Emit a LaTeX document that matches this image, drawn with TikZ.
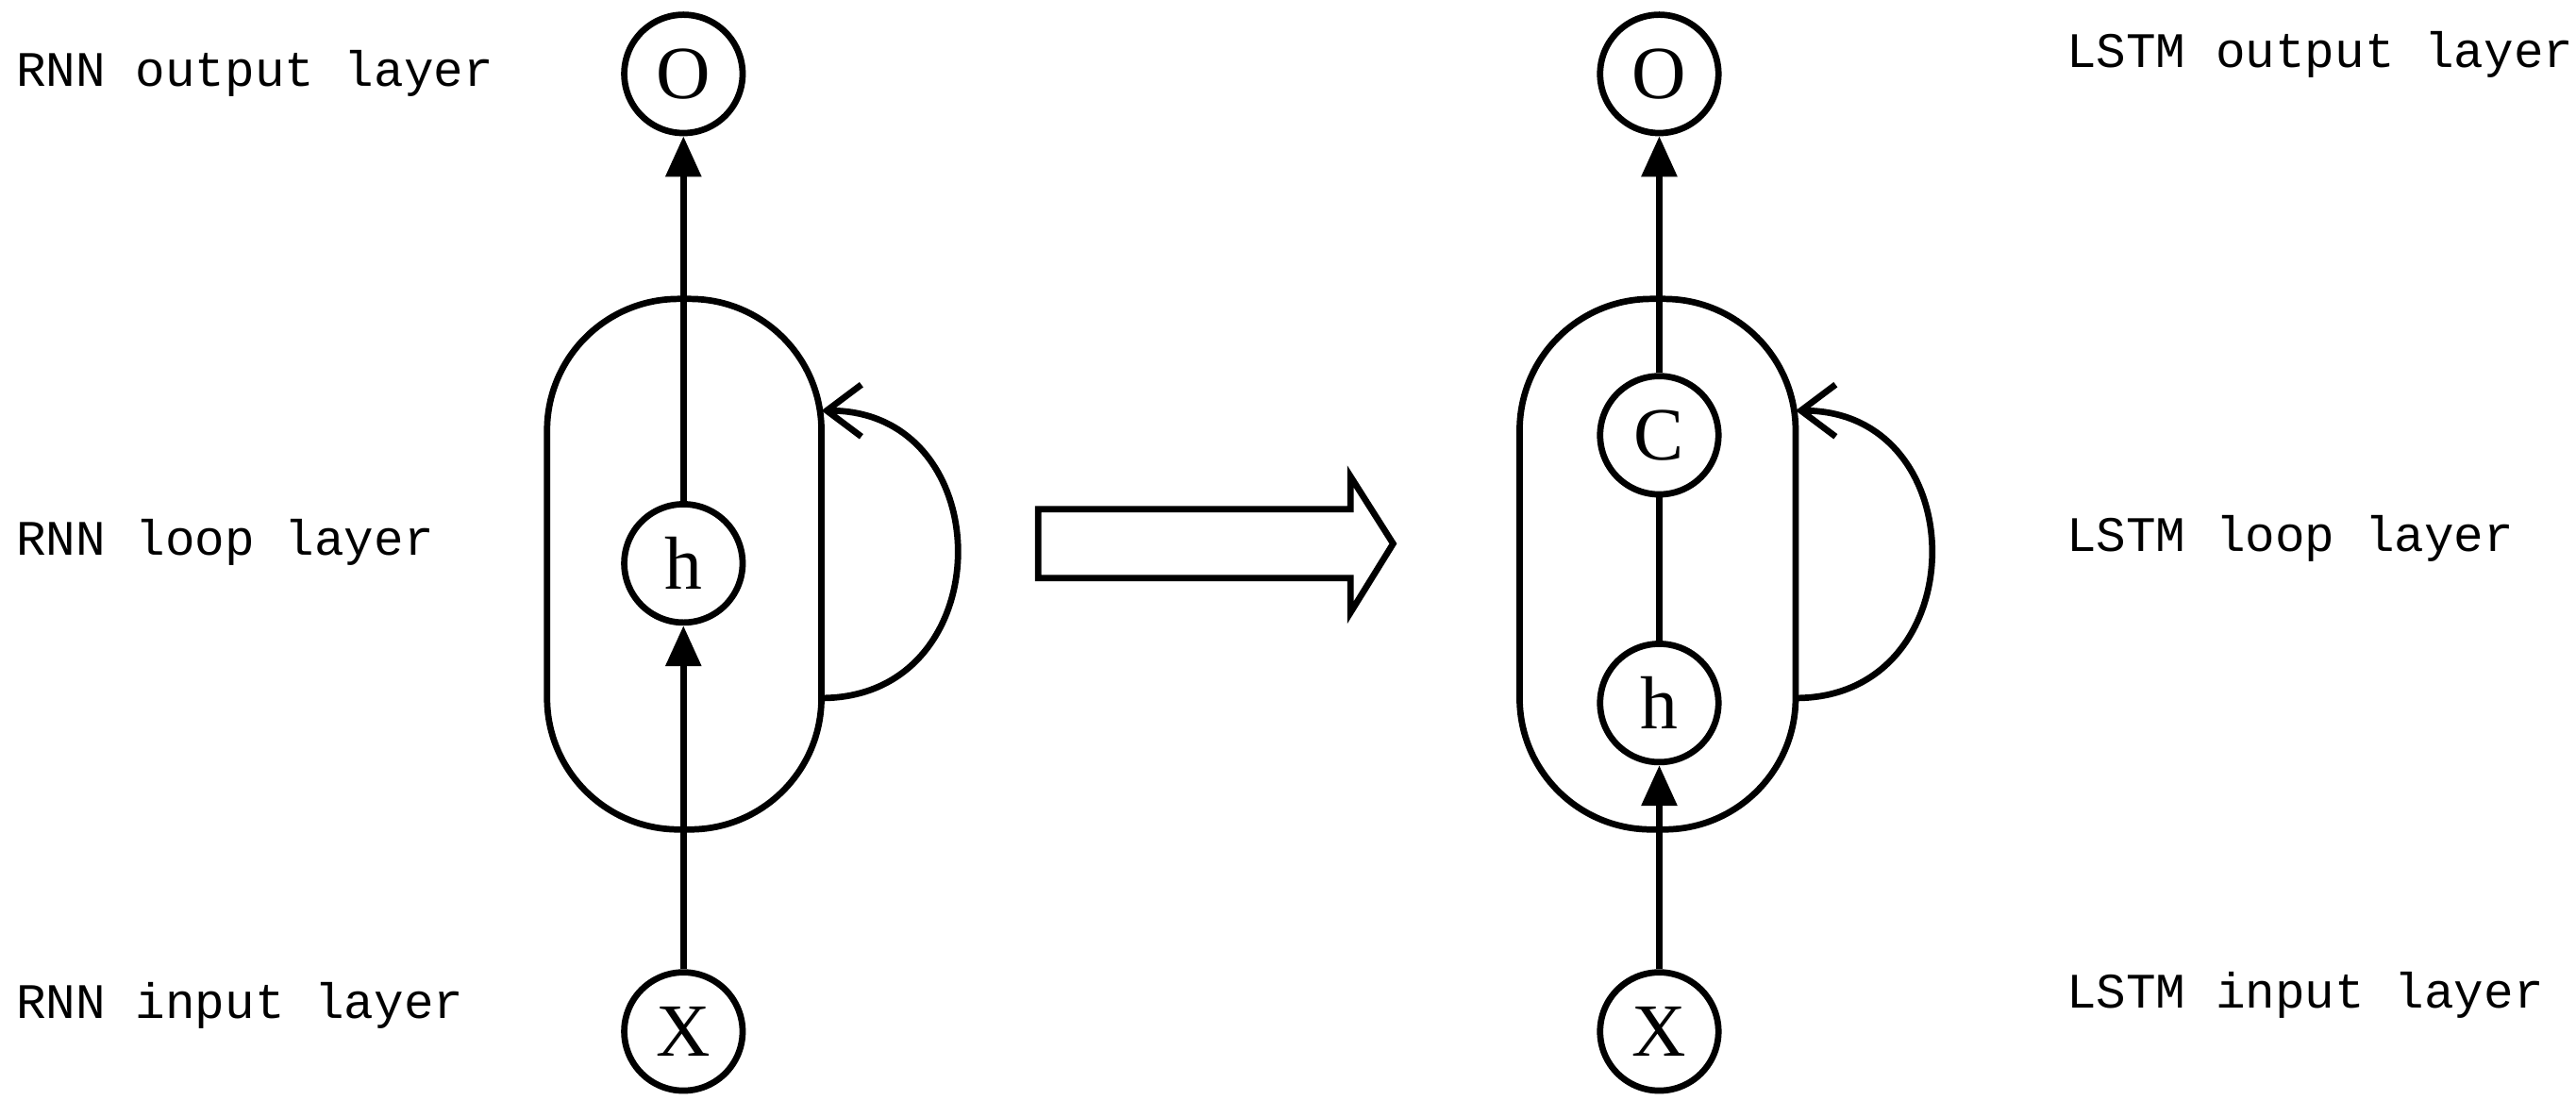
\documentclass[tikz,border=0pt]{standalone}
\usepackage{fontspec}
\setmainfont{Liberation Serif}
\newfontfamily\lblfont{Liberation Mono}
\usetikzlibrary{arrows.meta}
\begin{document}
\begin{tikzpicture}[x=0.01cm,y=-0.01cm,line width=1.1pt,
  nd/.style={circle,draw,minimum size=0.72cm,inner sep=0pt,font=\fontsize{13}{13}\selectfont},
  lbl/.style={anchor=west,font=\lblfont\fontsize{8.6}{10}\selectfont,inner sep=0pt},
  fa/.style={-{Triangle[length=7pt,width=6pt]}},
  box/.style={draw,rounded corners=0.8cm}]
\useasboundingbox (0,0) rectangle (1568,680);
% left
\node[nd] (o1) at (416,45) {O};
\node[nd] (h1) at (416,343) {h};
\node[nd] (x1) at (416,628) {X};
\draw[box] (333,182) rectangle (500,505);
\draw[fa] (x1) -- (h1);
\draw[fa] (h1) -- (o1);
\coordinate (l1a) at (500,425);
\coordinate (l1b) at (500,250);
\draw[-{Straight Barb[length=6pt,width=9pt]}] (l1a) .. controls (610,425) and (610,250) .. (l1b);
% right
\node[nd] (o2) at (1010,45) {O};
\node[nd] (c2) at (1010,265) {C};
\node[nd] (h2) at (1010,428) {h};
\node[nd] (x2) at (1010,628) {X};
\draw[box] (925,182) rectangle (1093,505);
\draw[fa] (x2) -- (h2);
\draw (h2) -- (c2);
\draw[fa] (c2) -- (o2);
\coordinate (l2a) at (1093,425);
\coordinate (l2b) at (1093,250);
\draw[-{Straight Barb[length=6pt,width=9pt]}] (l2a) .. controls (1203,425) and (1203,250) .. (l2b);
% big arrow
\draw (632,310) -- (822,310) -- (822,290) -- (848,331) -- (822,373) -- (822,352) -- (632,352) -- cycle;
% labels
\node[lbl] (t1) at (8,45) {RNN output layer};
\node[lbl] (t2) at (8,330) {RNN loop layer};
\node[lbl] (t3) at (8,612) {RNN input layer};
\node[lbl] (t4) at (1256,33) {LSTM output layer};
\node[lbl] (t5) at (1256,328) {LSTM loop layer};
\node[lbl] (t6) at (1256,606) {LSTM input layer};
\end{tikzpicture}
\end{document}
